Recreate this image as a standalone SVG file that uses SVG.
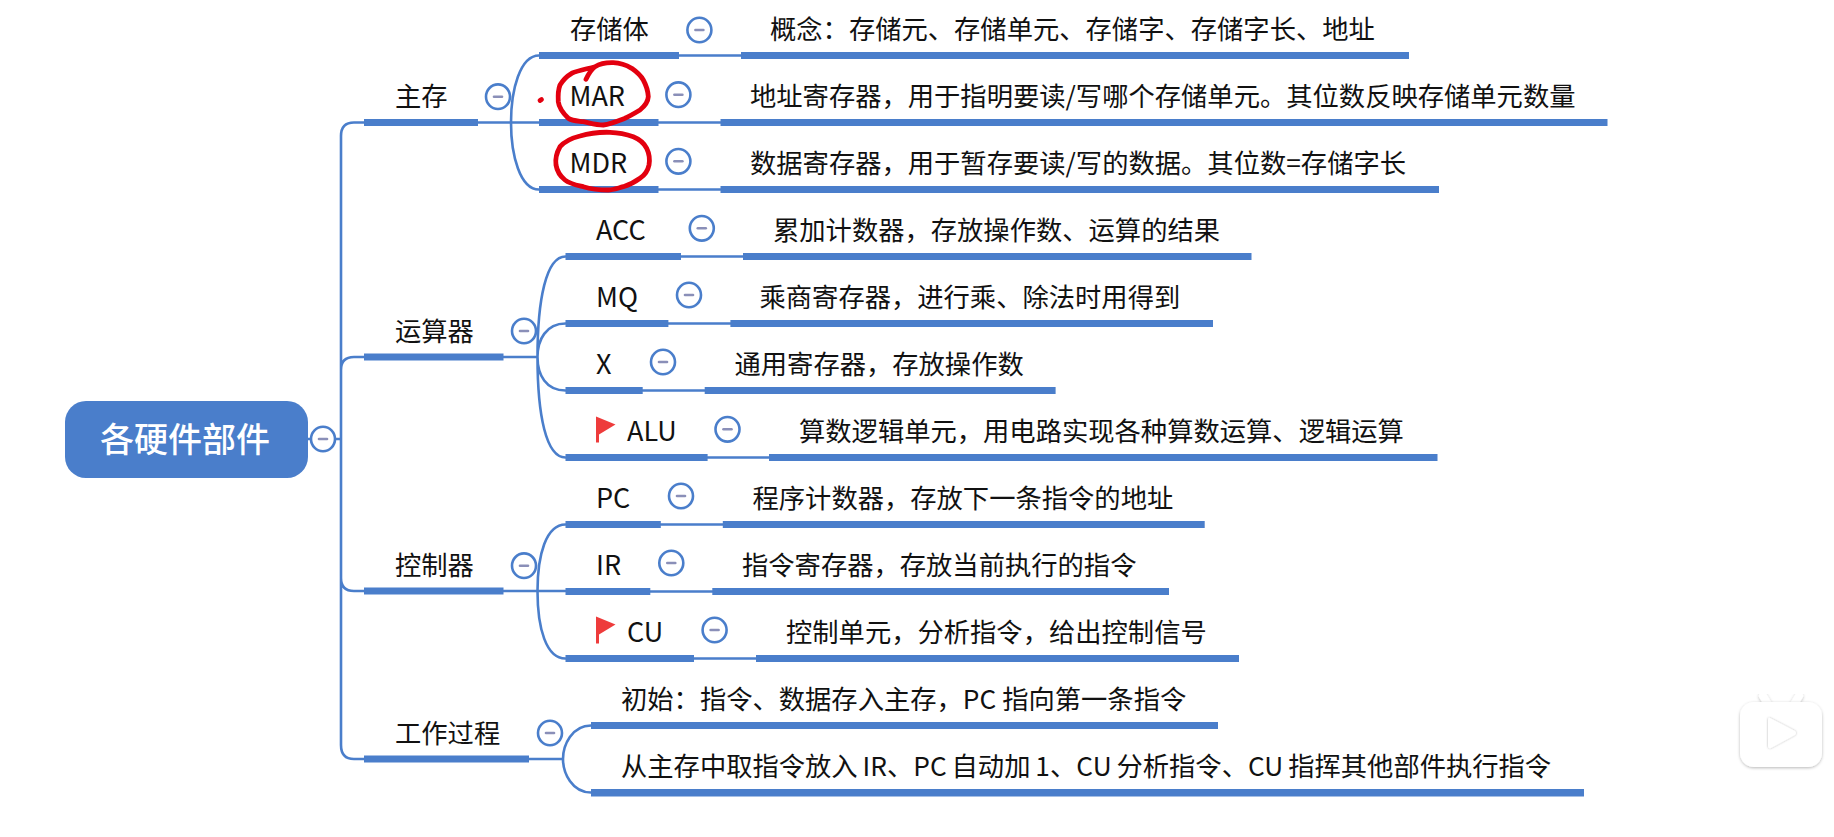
<svg xmlns="http://www.w3.org/2000/svg" width="1834" height="837" viewBox="0 0 1834 837">
<style>
text{font-family:"Noto Sans CJK SC","Noto Sans",sans-serif;font-size:26.3px;fill:#111}
.root{font-size:34px;fill:#fff;font-weight:500;text-anchor:middle}
.lat{font-size:27px}
.bar{fill:#4a7ecb}
.line{fill:none;stroke:#4a7ecb;stroke-width:2.6;stroke-linecap:round}
.c{fill:#fff;stroke:#4a7ecb;stroke-width:2.6}
.m{stroke:#8a8fb8;stroke-width:2.6;stroke-linecap:round}
.flag{fill:#ee3b3b}
.ink{fill:none;stroke:#e3000f;stroke-width:4.8;stroke-linecap:round;stroke-linejoin:round}
</style>
<defs>
<g id="cb"><ellipse class="c" rx="12" ry="12.3"/><line class="m" x1="-4" x2="4" y1="0" y2="0"/></g>
<filter id="sh" x="-20%" y="-20%" width="140%" height="140%"><feDropShadow dx="0" dy="1" stdDeviation="1.8" flood-color="#000" flood-opacity="0.28"/></filter>
<filter id="ins" x="-30%" y="-30%" width="160%" height="160%"><feDropShadow dx="0" dy="0" stdDeviation="1.3" flood-color="#000" flood-opacity="0.3"/></filter>
</defs>
<rect width="1834" height="837" fill="#fff"/>
<g id="connectors">
<path class="line" d="M307 439H341M364 122.5H354Q341 122.5 341 136V745Q341 759 354 759H364M341 370Q341 357 354 357H364M341 578Q341 591 354 591H364"/>
<path class="line" d="M478 122.5H539M511 122.5C511 90 520 55.5 539 55.5M511 122.5C511 155 520 189.5 539 189.5"/>
<path class="line" d="M503 357H537.5M537.5 357C537.5 300 546 256.5 565.5 256.5M537.5 357C537.5 340 546 323.5 565.5 323.5M537.5 357C537.5 375 546 390.5 565.5 390.5M537.5 357C537.5 415 546 457.5 565.5 457.5"/>
<path class="line" d="M503 591H565.5M537.5 591C537.5 555 546 524.5 565.5 524.5M537.5 591C537.5 628 546 658.5 565.5 658.5"/>
<path class="line" d="M529 759H563M563 759C563 745 572 725.5 591 725.5M563 759C563 773 572 792.5 591 792.5"/>
<path class="line" d="M679 55.5H741M658.5 122.5H720.5M658.5 189.5H720.5M681 256.5H743M668.4 323.5H730.4M642.7 390.5H704.7M707.6 457.5H769M660.8 524.5H722.8M650.3 591.5H712.3M694 658.5H756"/>
</g>
<g id="root"><rect x="65" y="401" width="243" height="77" rx="21" fill="#4a7ecb"/><text class="root" x="185" y="451.5">各硬件部件</text><use href="#cb" x="323" y="439"/></g>
<g id="n-zhucun"><rect class="bar" x="364" y="119" width="114" height="7"/><text x="395" y="106">主存</text><use href="#cb" x="498" y="96.7"/></g>
<g id="n-yunsuan"><rect class="bar" x="364" y="353.5" width="139.5" height="7"/><text x="395" y="341">运算器</text><use href="#cb" x="524" y="331"/></g>
<g id="n-kongzhi"><rect class="bar" x="364" y="587.5" width="139.5" height="7"/><text x="395" y="575">控制器</text><use href="#cb" x="524" y="565.7"/></g>
<g id="n-gongzuo"><rect class="bar" x="364" y="755.5" width="165" height="7"/><text x="395" y="743">工作过程</text><use href="#cb" x="550" y="733"/></g>

<g id="n-cunchuti"><rect class="bar" x="539" y="52" width="140" height="7"/><text x="570" y="39">存储体</text><use href="#cb" x="699.4" y="30"/></g>
<g id="d-cunchuti"><rect class="bar" x="741" y="52" width="668" height="7"/><text x="770" y="39">概念：存储元、存储单元、存储字、存储字长、地址</text></g>
<g id="n-mar"><rect class="bar" x="539" y="119" width="119.5" height="7"/><text class="lat" x="569.5" y="106">MAR</text><use href="#cb" x="678.4" y="94.7"/></g>
<g id="d-mar"><rect class="bar" x="720.5" y="119" width="887" height="7"/><text x="750" y="106">地址寄存器，用于指明要读/写哪个存储单元。其位数反映存储单元数量</text></g>
<g id="n-mdr"><rect class="bar" x="539" y="186" width="119.5" height="7"/><text class="lat" x="569.5" y="173">MDR</text><use href="#cb" x="678.4" y="161.3"/></g>
<g id="d-mdr"><rect class="bar" x="720.5" y="186" width="718.5" height="7"/><text x="750" y="173">数据寄存器，用于暂存要读/写的数据。其位数=存储字长</text></g>

<g id="n-acc"><rect class="bar" x="565.5" y="253" width="115.5" height="7"/><text class="lat" x="596" y="240">ACC</text><use href="#cb" x="701.8" y="228.3"/></g>
<g id="d-acc"><rect class="bar" x="743" y="253" width="508.5" height="7"/><text x="773" y="240">累加计数器，存放操作数、运算的结果</text></g>
<g id="n-mq"><rect class="bar" x="565.5" y="320" width="102.9" height="7"/><text class="lat" x="596" y="307">MQ</text><use href="#cb" x="689" y="295"/></g>
<g id="d-mq"><rect class="bar" x="730.4" y="320" width="482.6" height="7"/><text x="759.5" y="307">乘商寄存器，进行乘、除法时用得到</text></g>
<g id="n-x"><rect class="bar" x="565.5" y="387" width="77.2" height="7"/><text class="lat" x="596" y="374">X</text><use href="#cb" x="663" y="362"/></g>
<g id="d-x"><rect class="bar" x="704.7" y="387" width="350.9" height="7"/><text x="734.5" y="374">通用寄存器，存放操作数</text></g>
<g id="n-alu"><rect class="bar" x="565.5" y="454" width="142.1" height="7"/><path class="flag" d="M596 416.5L615.5 424.5L599 434.5V442.5H596Z"/><text class="lat" x="627" y="441">ALU</text><use href="#cb" x="727.5" y="429.3"/></g>
<g id="d-alu"><rect class="bar" x="769" y="454" width="668.5" height="7"/><text x="799" y="441">算数逻辑单元，用电路实现各种算数运算、逻辑运算</text></g>

<g id="n-pc"><rect class="bar" x="565.5" y="521" width="95.3" height="7"/><text class="lat" x="596" y="508">PC</text><use href="#cb" x="681" y="496"/></g>
<g id="d-pc"><rect class="bar" x="722.8" y="521" width="481.9" height="7"/><text x="752.5" y="508">程序计数器，存放下一条指令的地址</text></g>
<g id="n-ir"><rect class="bar" x="565.5" y="588" width="84.8" height="7"/><text class="lat" x="596" y="575">IR</text><use href="#cb" x="671.3" y="563"/></g>
<g id="d-ir"><rect class="bar" x="712.3" y="588" width="456.7" height="7"/><text x="742" y="575">指令寄存器，存放当前执行的指令</text></g>
<g id="n-cu"><rect class="bar" x="565.5" y="655" width="128.5" height="7"/><path class="flag" d="M596 616.5L615.5 624.5L599 634.5V643.5H596Z"/><text class="lat" x="627" y="642">CU</text><use href="#cb" x="714.6" y="630"/></g>
<g id="d-cu"><rect class="bar" x="756" y="655" width="483" height="7"/><text x="786" y="642">控制单元，分析指令，给出控制信号</text></g>

<g id="n-chushi"><rect class="bar" x="591" y="722" width="627" height="7"/><text x="621" y="709">初始：指令、数据存入主存，PC 指向第一条指令</text></g>
<g id="n-cong"><rect class="bar" x="591" y="789" width="993" height="7.5"/><text x="621" y="776" word-spacing="-1">从主存中取指令放入 IR、PC 自动加 1、CU 分析指令、CU 指挥其他部件执行指令</text></g>

<path class="ink" d="M586 79.3C589 73 592 69 595 66.7C601 63 607 62.5 613.3 62.7C620 63 626 65 631.7 68.3C637 72 641 76 643.3 80C646 85 648 91 648.3 96.7C648 102 645 106 640 110C635 113 630 116 625 118.3C618 121 611 124 603.3 125C596 125 590 123 583.3 121.7C578 121 572 121 568.3 118.3C563 113 559 108 558.3 101.7C558 96 558 90 560 85C563 80 567 76 571.7 73.3C579 70 587 69 595 66.7"/>
<path class="ink" d="M580 136C590 133 600 132 610 132.3C618 132.5 626 134 633.3 136.7C639 139 644 143 646.7 148.3C649 153 650 159 649 165C648 170 645 175 640 178.3C635 182 629 185 623.3 186.7C618 188 613 190 608.3 190C600 190 591 189 583.3 186.7C576 185 570 184 565 180C560 176 557 171 556 165C555 158 557 152 560 146.7C565 141 572 138 580 136Z"/>
<path class="ink" stroke-width="2.5" d="M540 100.5L541.5 99.5"/>

<g id="watermark">
<path d="M1763 696L1769 706M1799 696L1793 706" fill="none" stroke="#fff" stroke-width="8" stroke-linecap="round" filter="url(#sh)"/>
<rect x="1740" y="702" width="82" height="65" rx="14" fill="#fff" filter="url(#sh)"/>
<path d="M1770 718Q1768 717 1768 720V746Q1768 749 1771 748L1795 735Q1797 733 1795 731Z" fill="#fff" filter="url(#ins)"/>
</g>
</svg>
